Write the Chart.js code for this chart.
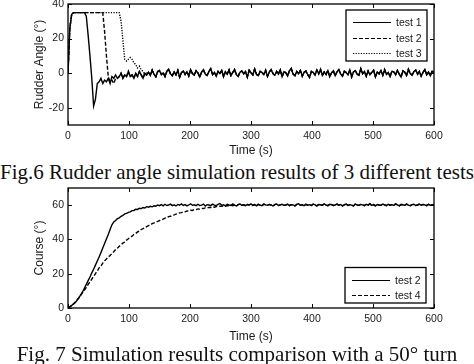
<!DOCTYPE html>
<html>
<head>
<meta charset="utf-8">
<script src="https://cdn.jsdelivr.net/npm/chart.js@4.4.0/dist/chart.umd.min.js"></script>
<style>
  html, body { margin: 0; padding: 0; background: #fff; }
  #page { position: relative; width: 474px; height: 364px; overflow: hidden; background: #fff; }
  canvas { position: absolute; left: 0; }
  #rudder { top: 0; }
  #course { top: 184px; }
  .caption {
    position: absolute; left: 0; width: 474px; text-align: center;
    font-family: 'Liberation Serif', 'Times New Roman', serif;
    font-size: 21px; line-height: 22px; white-space: nowrap; color: #111;
  }
  #cap6 { top: 161px; }
  #cap7 { top: 343px; }
</style>
</head>
<body>
<div id="page">
  <canvas id="rudder" width="474" height="160"></canvas>
  <div class="caption" id="cap6">Fig.6 Rudder angle simulation results of 3 different tests</div>
  <canvas id="course" width="474" height="162"></canvas>
  <div class="caption" id="cap7">Fig. 7 Simulation results comparison with a 50° turn</div>
</div>
<script>
'use strict';

/* ── Data (sampled every 3 s) ─────────────────────────────── */
const timeS = [0,3,6,9,12,15,18,21,24,27,30,33,36,39,42,45,48,51,54,57,60,63,66,69,72,75,78,81,84,87,90,93,96,99,102,105,108,111,114,117,120,123,126,129,132,135,138,141,144,147,150,153,156,159,162,165,168,171,174,177,180,183,186,189,192,195,198,201,204,207,210,213,216,219,222,225,228,231,234,237,240,243,246,249,252,255,258,261,264,267,270,273,276,279,282,285,288,291,294,297,300,303,306,309,312,315,318,321,324,327,330,333,336,339,342,345,348,351,354,357,360,363,366,369,372,375,378,381,384,387,390,393,396,399,402,405,408,411,414,417,420,423,426,429,432,435,438,441,444,447,450,453,456,459,462,465,468,471,474,477,480,483,486,489,492,495,498,501,504,507,510,513,516,519,522,525,528,531,534,537,540,543,546,549,552,555,558,561,564,567,570,573,576,579,582,585,588,591,594,597,600];
const xTicks = [0, 100, 200, 300, 400, 500, 600];
const rudderTicks = [-20, 0, 20, 40];
const courseTicks = [0, 20, 40, 60];

// rudder angle, t = 0..129 s
const rudderTest1Start = [0,26,34,35,35,35,35,35,35,35,
  33,22,10,-3,-19,-15,-6,-5,-3,-6,
  -4,-5,-3,-6,-2,-3,-1,-3,-2,0,
  -3,-1,-2,1,-2,-1,-3,0,-2,1,
  -1,-3,0,-1];
const rudderTest2Start = [0,26,34,35,35,35,35,35,35,35,
  35,35,35,35,35,35,35,35,35,35,
  24,10,-2,-5,-4,-6,-3,-3,-2,0,
  -3,-1,-2,1,-2,-1,-3,0,-2,1,
  -1,-3,0,-1];
const rudderTest3Start = [0,26,34,35,35,35,35,35,35,35,
  35,35,35,35,35,35,35,35,35,35,
  35,35,35,35,35,35,35,35,35,30,
  19,8,7,8,9,8,6,5,3,4,
  2,1,-1,0];
// rudder angle once all tests settle, t = 132..600 s
const rudderSteady = [0.5,-1.2,1.8,-0.6,-2.1,0.9,1.5,-0.8,0.2,-1.9,
  1.1,2.3,-0.4,-1.5,0.7,-0.9,1.6,-2.4,0.3,1.2,
  -0.7,0.8,-1.6,2.0,-0.3,-1.1,1.4,0.1,-2.2,0.6,
  1.9,-0.5,-1.3,0.9,2.6,-0.8,0.4,-1.7,1.0,-0.2,
  1.5,-2.0,0.7,-0.6,1.8,-1.4,0.3,2.1,-0.9,-1.8,
  0.5,1.3,-0.4,0.9,-2.3,1.6,0.2,-1.0,2.4,-0.7,
  -1.5,1.1,0.4,-0.8,1.7,-1.9,0.6,2.0,-0.3,-1.2,
  1.0,-0.5,1.9,-2.1,0.8,0.3,-1.6,1.4,2.7,-0.6,
  -1.4,0.9,-0.2,1.6,-1.8,0.5,1.2,-0.9,-2.5,1.0,
  0.4,-1.1,1.8,-0.4,2.2,-1.3,0.6,-0.7,1.5,-2.0,
  0.2,1.3,-1.5,0.8,2.1,-0.5,-1.7,1.1,0.3,-0.9,
  1.9,-2.2,0.7,1.4,-0.6,-1.2,2.5,-0.3,0.9,-1.8,
  1.2,-0.8,0.4,1.7,-2.1,0.6,-0.4,1.5,-1.3,2.0,
  -0.7,0.3,-1.9,1.1,0.8,-1.0,1.6,-0.5,-2.3,1.3,
  0.5,-1.4,2.2,-0.2,-1.1,0.9,1.8,-0.6,1.0,-1.7,
  0.4,2.1,-0.9,0.6,-1.5,1.2,0.3];

// course, test 2 t = 0..150 s, test 4 t = 0..270 s
const courseTest2Start = [0,0.8,1.5,2.3,3.2,4.6,6.0,7.8,9.5,11.6,
  13.8,16.0,18.1,20.5,22.6,25.0,27.4,29.8,32.3,35.0,
  37.6,40.2,42.9,45.8,48.5,50.2,51.0,52.1,52.6,53.5,
  54.0,54.9,55.2,55.8,56.1,56.8,56.9,57.6,57.5,58.2,
  58.0,58.6,58.4,59.1,58.8,59.3,59.0,59.6,59.4,60.1,
  59.7];
const courseTest4Start = [0,0.6,1.4,2.4,3.5,4.8,6.0,7.5,9.0,10.5,
  12.0,13.8,15.2,16.9,18.4,20.1,21.6,23.4,24.6,26.2,
  27.5,28.6,29.8,30.6,31.9,32.8,34.1,34.9,36.0,36.8,
  37.9,38.5,39.6,40.4,41.3,41.9,42.9,43.5,44.4,44.8,
  45.8,46.3,46.9,47.5,48.1,48.5,49.2,49.6,50.1,50.5,
  51.0,51.5,51.8,52.4,52.7,53.3,53.5,54.1,54.3,54.8,
  55.0,55.5,55.6,56.0,56.1,56.6,56.5,57.0,56.9,57.4,
  57.4,57.8,57.7,58.1,58.0,58.4,58.3,58.7,58.6,59.0,
  58.8,59.2,59.1,59.4,59.3,59.6,59.4,59.8,59.6,60.0,
  59.7];
// course at steady state, t = 153..600 s
const courseSteady = [60.3,59.6,60.5,59.8,60.1,60.6,59.7,60.2,59.5,60.4,
  60.0,60.7,59.8,60.3,59.6,60.1,60.8,59.9,60.2,59.7,
  60.5,59.8,60.0,60.6,59.5,60.3,60.1,59.7,60.6,60.0,
  59.8,60.4,60.9,59.9,60.2,59.6,60.5,60.1,59.8,60.7,
  60.0,59.5,60.3,60.6,59.9,60.2,59.7,60.4,60.1,60.8,
  59.8,60.3,59.6,60.5,60.0,59.7,60.6,60.2,59.9,60.4,
  60.1,59.5,60.3,60.7,59.8,60.2,60.5,59.9,60.0,60.6,
  59.7,60.3,60.1,59.6,60.4,60.8,59.9,60.2,59.7,60.5,
  60.0,60.3,59.8,60.6,60.1,59.6,60.4,60.2,59.9,60.7,
  60.0,59.7,60.5,60.3,59.8,60.1,60.6,59.9,60.4,59.6,
  60.2,60.7,59.8,60.3,60.0,59.5,60.6,60.1,59.9,60.4,
  60.2,59.7,60.5,60.0,60.8,59.8,60.3,59.6,60.4,60.1,
  59.9,60.6,60.2,59.7,60.5,60.0,60.3,59.8,60.7,60.1,
  59.6,60.4,60.2,59.9,60.6,60.0,59.7,60.3,60.5,59.8,
  60.1,60.6,59.9,60.4,60.2,59.7,60.5,60.0,60.3,60.2];

const rudderTest1 = rudderTest1Start.concat(rudderSteady);
const rudderTest2 = rudderTest2Start.concat(rudderSteady);
const rudderTest3 = rudderTest3Start.concat(rudderSteady);
const courseTest2 = courseTest2Start.concat(courseSteady);
const courseTest4 = courseTest4Start.concat(courseSteady.slice(40)); // joins at t = 273 s

/* ── Shared styling ───────────────────────────────────────── */
const SANS = '"Liberation Sans", Arial, Helvetica, sans-serif';
const INK = '#1a1a1a';
const tickFont = { family: SANS, size: 10.5 };
const titleFont = { family: SANS, size: 12 };

// MATLAB-like frame with inward ticks on all four sides
const frameAndTicks = {
  id: 'frameAndTicks',
  afterDatasetsDraw(chart) {
    const { ctx, chartArea: a, scales: { x, y } } = chart;
    const len = 4;
    ctx.save();
    ctx.strokeStyle = '#000';
    ctx.lineWidth = 1;
    ctx.beginPath();
    x.ticks.forEach(t => {
      const px = Math.round(x.getPixelForValue(t.value)) + 0.5;
      ctx.moveTo(px, a.bottom); ctx.lineTo(px, a.bottom - len);
      ctx.moveTo(px, a.top); ctx.lineTo(px, a.top + len);
    });
    y.ticks.forEach(t => {
      const py = Math.round(y.getPixelForValue(t.value)) + 0.5;
      ctx.moveTo(a.left, py); ctx.lineTo(a.left + len, py);
      ctx.moveTo(a.right, py); ctx.lineTo(a.right - len, py);
    });
    ctx.stroke();
    ctx.lineWidth = 1.3;
    ctx.strokeRect(a.left, a.top, a.width, a.height);
    ctx.restore();
  }
};

// boxed legend drawn inside the plot area
const boxLegend = {
  id: 'boxLegend',
  afterDraw(chart, args, opts) {
    const { ctx, chartArea: a } = chart;
    const sets = chart.data.datasets;
    const w = 81, rowH = 15.5;
    const h = 20 + rowH * (sets.length - 1);
    const left = a.right - opts.right - w;
    const top = opts.top != null ? a.top + opts.top : a.bottom - opts.bottom - h;
    ctx.save();
    ctx.fillStyle = '#fff';
    ctx.fillRect(left, top, w, h);
    ctx.strokeStyle = '#000';
    ctx.lineWidth = 1.3;
    ctx.strokeRect(left, top, w, h);
    ctx.font = '10.5px ' + SANS;
    ctx.textBaseline = 'middle';
    sets.forEach((ds, i) => {
      const cy = Math.round(top + 12 + i * rowH) + 0.5;
      ctx.strokeStyle = '#000';
      ctx.lineWidth = 1.2;
      ctx.setLineDash(ds.borderDash || []);
      ctx.beginPath();
      ctx.moveTo(left + 7, cy);
      ctx.lineTo(left + 45, cy);
      ctx.stroke();
      ctx.setLineDash([]);
      ctx.fillStyle = INK;
      ctx.fillText(ds.label, left + 50, cy + 1);
    });
    ctx.restore();
  }
};

function line(label, data, dash) {
  return { label, data, borderColor: '#000', borderWidth: 1.4, borderDash: dash, pointRadius: 0, tension: 0 };
}

function makeChart(id, datasets, yMin, yMax, yTicks, yTitle, legendPos, xAxisHeight) {
  return new Chart(document.getElementById(id), {
    type: 'line',
    data: { labels: timeS, datasets },
    options: {
      responsive: false,
      animation: false,
      layout: { padding: { top: 4, right: 40, left: 0, bottom: 0 } },
      plugins: { legend: { display: false }, tooltip: { enabled: false }, boxLegend: legendPos },
      scales: {
        x: {
          type: 'linear', min: 0, max: 600,
          grid: { display: false, drawTicks: false }, border: { display: false },
          ticks: { font: tickFont, color: INK, padding: 5, maxRotation: 0, autoSkip: false },
          title: { display: true, text: 'Time (s)', font: titleFont, color: INK, padding: { top: 0, bottom: 2 } },
          afterBuildTicks: s => { s.ticks = xTicks.map(v => ({ value: v })); },
          afterFit: s => { s.height = xAxisHeight; s.paddingLeft = 0; s.paddingRight = 0; }
        },
        y: {
          min: yMin, max: yMax,
          grid: { display: false, drawTicks: false }, border: { display: false },
          ticks: { font: tickFont, color: INK, padding: 4 },
          title: { display: true, text: yTitle, font: titleFont, color: INK, padding: { top: 32, bottom: 0 } },
          afterBuildTicks: s => { s.ticks = yTicks.map(v => ({ value: v })); },
          afterFit: s => { s.width = 68; s.paddingTop = 0; s.paddingBottom = 0; }
        }
      }
    },
    plugins: [frameAndTicks, boxLegend]
  });
}

makeChart('rudder', [
  line('test 1', rudderTest1, []),
  line('test 2', rudderTest2, [4, 2]),
  line('test 3', rudderTest3, [1.2, 1.4])
], -30, 40, rudderTicks, 'Rudder Angle (°)', { right: 7, top: 6 }, 35);

makeChart('course', [
  line('test 2', courseTest2, []),
  line('test 4', courseTest4, [4, 2])
], 0, 70, courseTicks, 'Course (°)', { right: 8, bottom: 5 }, 38);
</script>
</body>
</html>
